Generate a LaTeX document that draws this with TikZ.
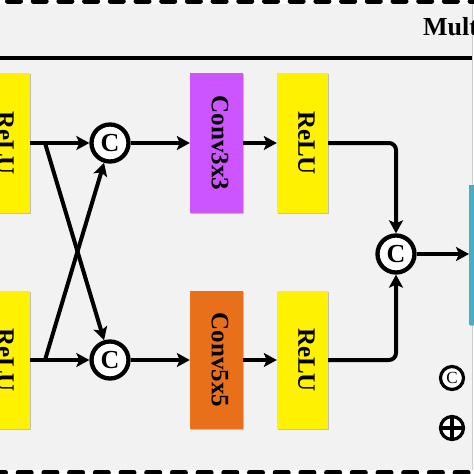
\documentclass[tikz,border=0pt]{standalone}
\usepackage{fontspec}
\setmainfont{Liberation Serif}
\usetikzlibrary{arrows.meta,shadows,calc}
\definecolor{bg}{HTML}{F2F2F2}
\definecolor{ryellow}{HTML}{FFF200}
\definecolor{rpurple}{HTML}{CC55FF}
\definecolor{rorange}{HTML}{E8701A}
\definecolor{rteal}{HTML}{4BACC6}
\begin{document}
\begin{tikzpicture}[x=1pt,y=-1pt,
  box/.style={inner sep=0pt, draw=none, drop shadow={shadow xshift=1.2pt, shadow yshift=-1.2pt, fill=black!45, opacity=0.5}},
  lbl/.style={rotate=-90, inner sep=0pt, font=\bfseries\fontsize{25}{28}\selectfont},
  cat/.style={circle, draw, line width=4.3pt, fill=white, minimum size=37pt, inner sep=0pt, font=\bfseries\fontsize{26}{28}\selectfont},
  legc/.style={circle, draw, line width=3.2pt, fill=white, minimum size=23pt, inner sep=0pt, font=\fontsize{17}{19}\selectfont},
  arr/.style={line width=4pt, -{Stealth[length=13pt,width=14pt,inset=3pt]}},
  dashline/.style={line width=5pt, line cap=round, dash pattern=on 13pt off 12.7pt}
]
\useasboundingbox (0,0) rectangle (474,474);
\fill[white] (0,0) rectangle (474,474);
\clip (0,0) rectangle (474,474);
\fill[bg] (0,4) rectangle (472,470);
\draw[line width=0.8pt, black!20] (472,4) -- (472,470);
\draw[dashline] (7.5,1) -- (490,1);
\draw[dashline] (-7.5,472.5) -- (490,472.5);
\draw[line width=3.8pt] (0,58) -- (472,58);
\node[anchor=base west, inner sep=0pt, font=\bfseries\fontsize{26}{30}\selectfont] (title) at (423,35) {Mult};

% top row
\node[box, fill=ryellow, minimum width=51pt, minimum height=140pt] (reluTL) at (4.5,143) {};
\node[lbl] (tReluTL) at ([xshift=1pt]reluTL.center) {ReLU};
\node[cat] (c1) at (110,143) {C};
\node[box, fill=rpurple, minimum width=53pt, minimum height=140pt] (conv3) at (216.5,143) {};
\node[lbl] (tConv3) at ([xshift=3.5pt]conv3.center) {Conv3x3};
\node[box, fill=ryellow, minimum width=51pt, minimum height=140pt] (relu2) at (302.5,143) {};
\node[lbl] (tRelu2) at ([xshift=4pt]relu2.center) {ReLU};

% bottom row
\node[box, fill=ryellow, minimum width=51pt, minimum height=138pt] (reluBL) at (4.5,360) {};
\node[lbl] (tReluBL) at ([xshift=1pt]reluBL.center) {ReLU};
\node[cat] (c2) at (110,360) {C};
\node[box, fill=rorange, minimum width=53pt, minimum height=138pt] (conv5) at (216.5,360) {};
\node[lbl] (tConv5) at ([xshift=3.5pt]conv5.center) {Conv5x5};
\node[box, fill=ryellow, minimum width=51pt, minimum height=138pt] (relu4) at (302.5,360) {};
\node[lbl] (tRelu4) at ([xshift=4pt]relu4.center) {ReLU};

% merge
\node[cat] (cbig) at (396,254) {C};
\node[box, fill=rteal, minimum width=14pt, minimum height=140pt, anchor=north west] (teal) at (469,185) {};

% legend
\node[legc] (legC) at (452,378) {C};
\node[legc] (legP) at (452,428) {};
\draw[line width=3.2pt] (legP.north) -- (legP.south) (legP.west) -- (legP.east);

% connectors
\coordinate (b1) at (45,143);
\coordinate (b2) at (45,360);
\draw[arr] (reluTL.east) -- (c1);
\draw[arr] (reluBL.east) -- (c2);
\draw[arr] (b1) -- (c2);
\draw[arr] (b2) -- (c1);
\draw[arr] (c1) -- (conv3.west);
\draw[arr] (c2) -- (conv5.west);
\draw[arr] (conv3.east) -- (relu2.west);
\draw[arr] (conv5.east) -- (relu4.west);
\draw[arr, rounded corners=7pt] (relu2.east) -| (cbig.north);
\draw[arr, rounded corners=7pt] (relu4.east) -| (cbig.south);
\draw[arr] (cbig.east) -- (cbig.east -| teal.west);
\end{tikzpicture}
\end{document}
